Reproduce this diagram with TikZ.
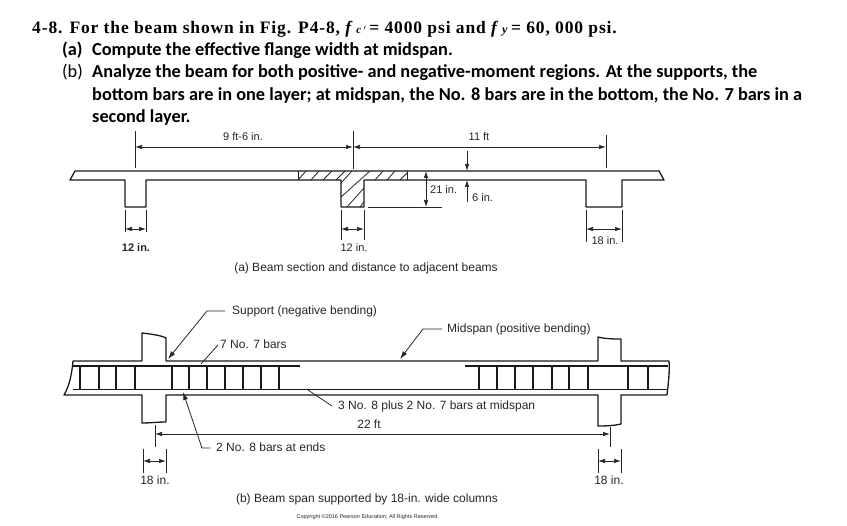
\documentclass[tikz,border=0pt]{standalone}
\usepackage{fontspec}
\setmainfont{Liberation Sans}
\newfontfamily\titlefont[LetterSpace=5]{Liberation Serif}
\newfontfamily\partfont{Carlito}
\usetikzlibrary{arrows.meta}

\begin{document}
\begin{tikzpicture}[x=1pt, y=-1pt]
        \tikzset{label/.style = {font=\fontsize{12}{14}\selectfont, anchor=base west, inner sep=0pt, black!85}}
        \tikzset{caption/.style = {font=\fontsize{12}{14}\selectfont, anchor=base, inner sep=0pt, black!85}}
        \tikzset{problem/.style = {font=\partfont\bfseries\fontsize{18.3}{22}\selectfont, anchor=base west, inner sep=0pt}}
        \tikzset{outline/.style = {line width=1.3pt, line join=round, black!90}}
        \tikzset{bar/.style = {line width=1.7pt, black!90}}
        \tikzset{hatching/.style = {line width=0.8pt, black!85}}
        \tikzset{extension/.style = {line width=0.8pt, black!85}}
        \tikzset{dim/.style = {line width=0.7pt, black!85, > = {Latex[length=7pt, width=4.5pt]}}}
        \tikzset{leader/.style = {line width=0.8pt, black!85, > = {Latex[length=8pt, width=5pt]}}}
        \useasboundingbox (0, 0) rectangle (847, 526);

        % heading
        \node[problem, font=\titlefont\bfseries\fontsize{17.5}{20}\selectfont] (title) at (32, 34) {4-8. For the beam shown in Fig. P4-8, \textit{f}\,{\fontsize{11}{10}\selectfont\textit{c}\,$'$}\,= 4000 psi and \textit{f}\,{\fontsize{12}{10}\selectfont\textit{y}}\,= 60, 000 psi.};
        \node[problem] (parta) at (62, 56) {(a)};
        \node[problem] (textone) at (92, 56) {Compute the effective flange width at midspan.};
        \node[problem, font=\partfont\fontsize{18.3}{22}\selectfont] (partb) at (62, 78) {(b)};
        \node[problem] (texttwo) at (92, 78) {Analyze the beam for both positive- and negative-moment regions. At the supports, the};
        \node[problem] (textthree) at (92, 101) {bottom bars are in one layer; at midspan, the No. 8 bars are in the bottom, the No. 7 bars in a};
        \node[problem] (textfour) at (92, 123) {second layer.};

        % beam section
        \draw[outline] (75, 171) -- (659, 171) -- (664, 180) -- (622, 180) -- (622, 207) -- (586, 207) -- (586, 180)
          -- (364, 180) -- (364, 207) -- (341, 207) -- (341, 180) -- (146, 180) -- (146, 207) -- (125, 207) -- (125, 180) -- (70, 180) -- cycle;
        \draw[hatching] (298, 171) -- (298, 180);
        \draw[hatching] (407, 171) -- (407, 180);
        \draw[hatching] (298, 180) -- (306, 171);
        \draw[hatching] (311, 180) -- (319, 171);
        \draw[hatching] (323, 180) -- (332, 171);
        \draw[hatching] (336, 180) -- (345, 171);
        \draw[hatching] (341, 183) -- (352, 171);
        \draw[hatching] (341, 197) -- (370, 171);
        \draw[hatching] (347, 207) -- (364, 188);
        \draw[hatching] (360, 207) -- (364, 202);
        \draw[hatching] (375, 180) -- (383, 171);
        \draw[hatching] (387, 180) -- (395, 171);
        \draw[hatching] (400, 180) -- (407, 173);

        % spacing dimensions
        \coordinate (s1t) at (135, 131);
        \coordinate (s1b) at (135, 168);
        \coordinate (s2t) at (353, 131);
        \coordinate (s2b) at (353, 169);
        \coordinate (s3t) at (606, 135);
        \coordinate (s3b) at (606, 168);
        \coordinate (d1) at (135, 147);
        \coordinate (d2) at (353, 147);
        \coordinate (d3) at (606, 147);
        \draw[extension] (s1t) -- (s1b);
        \draw[extension] (s2t) -- (s2b);
        \draw[extension] (s3t) -- (s3b);
        \draw[dim,<->] (d1) -- (d2);
        \draw[dim,<->] (d2) -- (d3);
        \node[caption, font=\fontsize{11}{13}\selectfont] (spanl) at (243, 141) {9 ft-6 in.};
        \node[caption, font=\fontsize{11}{13}\selectfont] (spanr) at (479, 141) {11 ft};

        % depth dimensions
        \coordinate (dt) at (426, 171);
        \coordinate (db) at (426, 207);
        \coordinate (el) at (368, 207);
        \coordinate (er) at (442, 207);
        \draw[extension] (el) -- (er);
        \draw[dim,<->] (dt) -- (db);
        \node[label, font=\fontsize{11}{13}\selectfont] (depth) at (430, 194) {21 in.};
        \coordinate (f1) at (467, 151);
        \coordinate (f2) at (467, 171);
        \coordinate (f3) at (467, 202);
        \coordinate (f4) at (467, 180);
        \draw[dim,->] (f1) -- (f2);
        \draw[dim,->] (f3) -- (f4);
        \node[label, font=\fontsize{11}{13}\selectfont] (flange) at (472, 202) {6 in.};

        % web widths
        \coordinate (w1a) at (125, 210);
        \coordinate (w1b) at (125, 232);
        \coordinate (w2a) at (146, 210);
        \coordinate (w2b) at (146, 232);
        \coordinate (w3a) at (341, 210);
        \coordinate (w3b) at (341, 240);
        \coordinate (w4a) at (364, 210);
        \coordinate (w4b) at (364, 240);
        \coordinate (w5a) at (586, 210);
        \coordinate (w5b) at (586, 242);
        \coordinate (w6a) at (622, 210);
        \coordinate (w6b) at (622, 242);
        \draw[extension] (w1a) -- (w1b);
        \draw[extension] (w2a) -- (w2b);
        \draw[extension] (w3a) -- (w3b);
        \draw[extension] (w4a) -- (w4b);
        \draw[extension] (w5a) -- (w5b);
        \draw[extension] (w6a) -- (w6b);
        \coordinate (a1) at (125, 229);
        \coordinate (a2) at (146, 229);
        \coordinate (a3) at (341, 229);
        \coordinate (a4) at (364, 229);
        \coordinate (a5) at (586, 229);
        \coordinate (a6) at (622, 229);
        \draw[dim,<->] (a1) -- (a2);
        \draw[dim,<->] (a3) -- (a4);
        \draw[dim,<->] (a5) -- (a6);
        \node[caption, font=\bfseries\fontsize{11}{13}\selectfont] (webl) at (136, 252) {12 in.};
        \node[caption, font=\fontsize{11}{13}\selectfont] (webm) at (354, 252) {12 in.};
        \node[caption, font=\fontsize{11}{13}\selectfont] (webr) at (605, 245) {18 in.};
        \node[caption] (capa) at (366, 272) {(a) Beam section and distance to adjacent beams};

        % beam span
        \draw[outline] (64, 395) .. controls (70, 385) and (72, 372) .. (73, 361) -- (142, 361) -- (142, 333) .. controls (150, 334) and (160, 335) .. (166, 338) -- (166, 361)
          -- (598, 361) -- (598, 337) .. controls (605, 339) and (615, 339) .. (621, 339) -- (621, 361) -- (669, 361) .. controls (670, 372) and (668, 385) .. (667, 395)
          -- (621, 395) -- (621, 424) .. controls (612, 426) and (605, 426) .. (598, 426) -- (598, 395) -- (166, 395) -- (166, 422) .. controls (158, 422) and (150, 423) .. (142, 423) -- (142, 395) -- cycle;

        % bars
        \draw[bar] (73, 366) -- (300, 366);
        \draw[bar] (465, 366) -- (668, 366);
        \draw[bar] (73, 389.5) -- (668, 389.5);
        \draw[bar] (80, 366) -- (80, 389.5);
        \draw[bar] (98.7, 366) -- (98.7, 389.5);
        \draw[bar] (116.3, 366) -- (116.3, 389.5);
        \draw[bar] (134.7, 366) -- (134.7, 389.5);
        \draw[bar] (171.7, 366) -- (171.7, 389.5);
        \draw[bar] (189.3, 366) -- (189.3, 389.5);
        \draw[bar] (207.3, 366) -- (207.3, 389.5);
        \draw[bar] (225.3, 366) -- (225.3, 389.5);
        \draw[bar] (243.3, 366) -- (243.3, 389.5);
        \draw[bar] (261, 366) -- (261, 389.5);
        \draw[bar] (279.3, 366) -- (279.3, 389.5);
        \draw[bar] (479, 366) -- (479, 389.5);
        \draw[bar] (497.3, 366) -- (497.3, 389.5);
        \draw[bar] (515, 366) -- (515, 389.5);
        \draw[bar] (533.3, 366) -- (533.3, 389.5);
        \draw[bar] (552.3, 366) -- (552.3, 389.5);
        \draw[bar] (569.3, 366) -- (569.3, 389.5);
        \draw[bar] (587.7, 366) -- (587.7, 389.5);
        \draw[bar] (628.3, 366) -- (628.3, 389.5);
        \draw[bar] (648.3, 366) -- (648.3, 389.5);

        % leaders
        \node[label] (support) at (232, 315) {Support (negative bending)};
        \node[label] (midspan) at (447, 333) {Midspan (positive bending)};
        \node[label] (seven) at (220, 349) {7 No. 7 bars};
        \node[label] (three) at (338, 410) {3 No. 8 plus 2 No. 7 bars at midspan};
        \node[label] (two) at (216, 452) {2 No. 8 bars at ends};
        \coordinate (ls1) at (225, 311);
        \coordinate (ls2) at (207, 311);
        \coordinate (ls3) at (168, 359);
        \draw[leader,->] (ls1) -- (ls2) -- (ls3);
        \coordinate (lm1) at (442, 329);
        \coordinate (lm2) at (423, 329);
        \coordinate (lm3) at (400, 359);
        \draw[leader,->] (lm1) -- (lm2) -- (lm3);
        \coordinate (l71) at (218, 345);
        \coordinate (l72) at (201, 364);
        \draw[leader] (l71) -- (l72);
        \coordinate (l31) at (332, 406);
        \coordinate (l32) at (308, 390);
        \draw[leader] (l31) -- (l32);
        \coordinate (l21) at (210, 448);
        \coordinate (l22) at (202, 448);
        \coordinate (l23) at (183, 392);
        \draw[leader,->] (l21) -- (l22) -- (l23);

        % span dimensions
        \coordinate (c1t) at (155, 425);
        \coordinate (c1b) at (155, 447);
        \coordinate (c2t) at (610, 427);
        \coordinate (c2b) at (610, 447);
        \coordinate (c1) at (155, 434);
        \coordinate (c2) at (610, 434);
        \draw[extension] (c1t) -- (c1b);
        \draw[extension] (c2t) -- (c2b);
        \draw[dim,<->] (c1) -- (c2);
        \node[caption] (span) at (369, 429) {22 ft};
        \coordinate (k1a) at (143, 449);
        \coordinate (k1b) at (143, 473);
        \coordinate (k2a) at (166, 449);
        \coordinate (k2b) at (166, 473);
        \coordinate (k3a) at (598, 449);
        \coordinate (k3b) at (598, 473);
        \coordinate (k4a) at (621, 449);
        \coordinate (k4b) at (621, 473);
        \draw[extension] (k1a) -- (k1b);
        \draw[extension] (k2a) -- (k2b);
        \draw[extension] (k3a) -- (k3b);
        \draw[extension] (k4a) -- (k4b);
        \coordinate (m1) at (143, 461);
        \coordinate (m2) at (166, 461);
        \coordinate (m3) at (598, 461);
        \coordinate (m4) at (621, 461);
        \draw[dim,<->] (m1) -- (m2);
        \draw[dim,<->] (m3) -- (m4);
        \node[caption] (coll) at (155, 485) {18 in.};
        \node[caption] (colr) at (609, 485) {18 in.};
        \node[caption] (capb) at (367, 503) {(b) Beam span supported by 18-in. wide columns};
        \node[caption, font=\fontsize{5.5}{7}\selectfont] (copy) at (367, 519) {Copyright \textcopyright 2016 Pearson Education, All Rights Reserved};
      \end{tikzpicture}
\end{document}
